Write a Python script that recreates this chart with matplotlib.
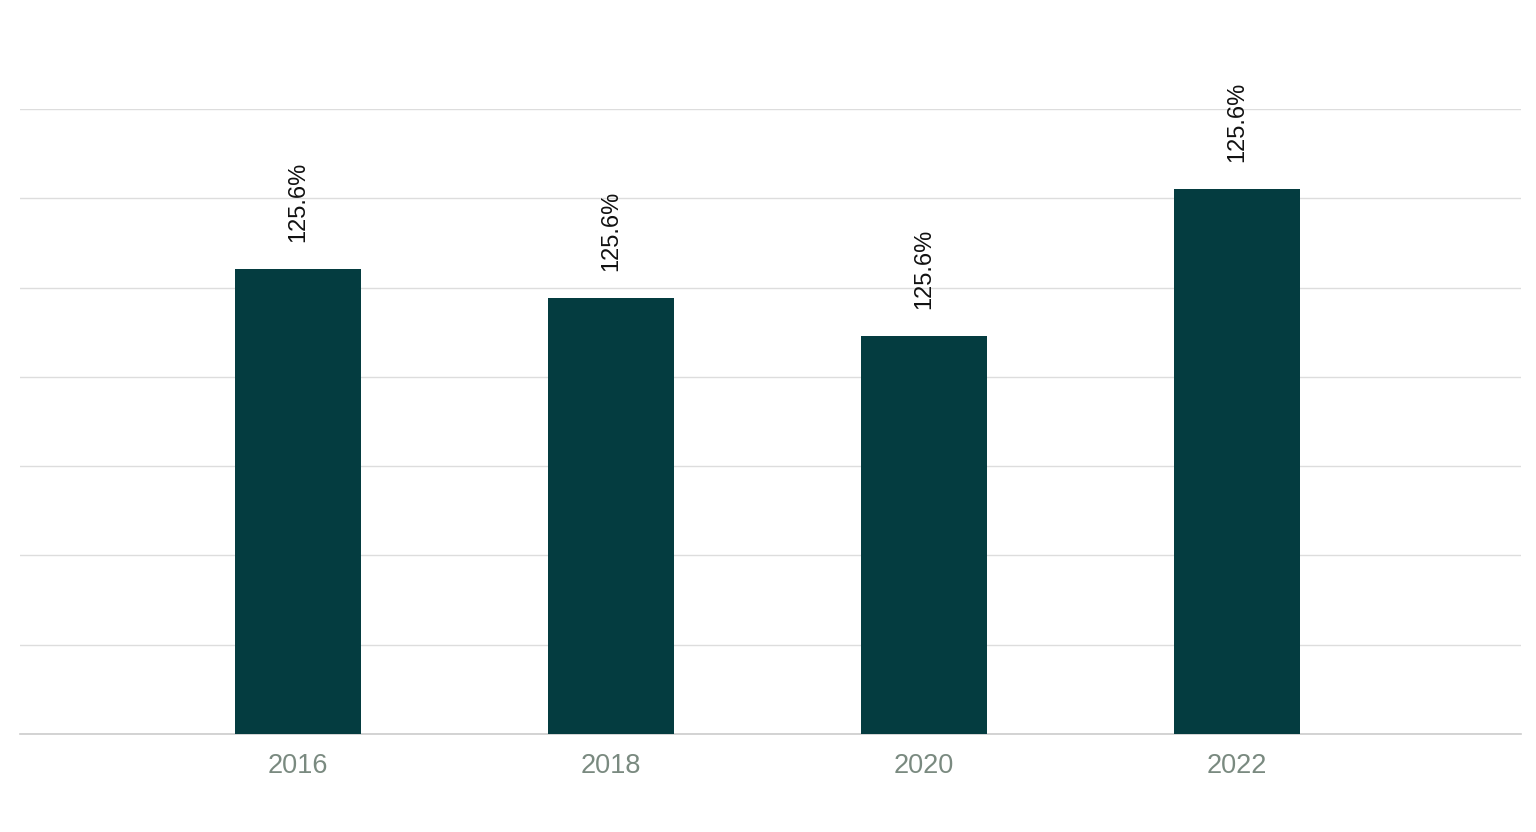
import matplotlib
matplotlib.use("Agg")
import matplotlib.pyplot as plt

years = ["2016", "2018", "2020", "2022"]
values = [104.2, 97.7, 89.2, 122.1]
labels = ["125.6%", "125.6%", "125.6%", "125.6%"]
yticks = [0, 20, 40, 60, 80, 100, 120, 140]

plt.rcParams['font.family'] = ['Liberation Sans', 'DejaVu Sans']

fig = plt.figure(figsize=(15.36, 8.32), dpi=100)
ax = fig.add_axes([20/1536, 1 - 734/832, (1521-20)/1536, (734-109)/832])

x = list(range(len(years)))
bars = ax.bar(x, values, width=0.40, color="#043c40", zorder=3)
for b, lab in zip(bars, labels):
    ax.annotate(lab, (b.get_x() + b.get_width()/2, b.get_height()),
                xytext=(0, 19.5), textcoords="offset points",
                rotation=90, ha="center", va="bottom", fontsize=17, color="#111111")

ax.set_xlim(-0.888, 3.907)
ax.set_ylim(0, 140)
ax.set_yticks(yticks)
ax.set_yticklabels([])
ax.tick_params(axis="y", length=0)
ax.set_xticks(x)
ax.set_xticklabels(years, fontsize=19.5, color="#7a8a80")
ax.tick_params(axis="x", length=0, pad=14)
ax.grid(axis="y", color="#dddddd", linewidth=1, zorder=0)
for s in ["top", "right", "left"]:
    ax.spines[s].set_visible(False)
ax.spines["bottom"].set_color("#cccccc")
ax.spines["bottom"].set_linewidth(1.2)

fig.savefig("out.png", dpi=100, facecolor="white")
